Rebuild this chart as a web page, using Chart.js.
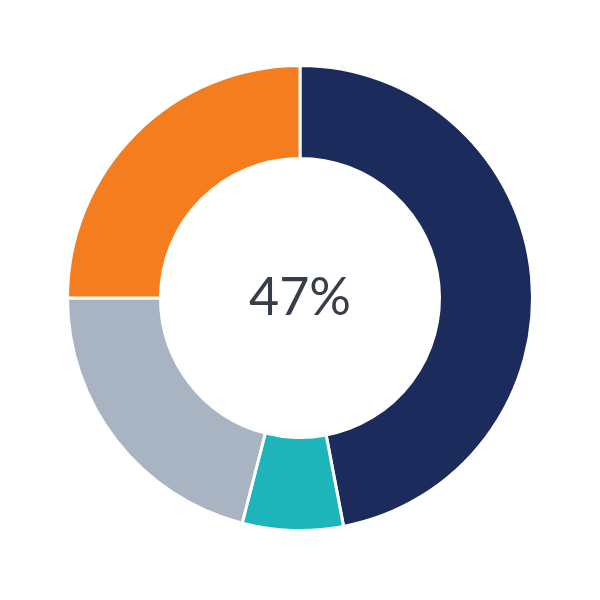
<!DOCTYPE html>
<html>
<head>
<meta charset="utf-8">
<script src="https://cdn.jsdelivr.net/npm/chart.js@4"></script>
<style>
  html, body { margin: 0; padding: 0; background: #ffffff; }
  #wrap { width: 600px; height: 600px; }
</style>
</head>
<body>
<div id="wrap"><canvas id="donutChart"></canvas></div>
<script>
const labels = ['A', 'B', 'C', 'D'];
const values = [47, 7, 21, 25];
const colors = ['#1b2b5b', '#1db5b9', '#a9b4c3', '#f47d20'];
const centerLabel = '47%';

// texto central
const centerText = {
    id: 'centerText',
    afterDraw(chart) {
        const c = chart.ctx;
        const meta = chart.getDatasetMeta(0).data[0];
        c.save();
        c.font = '400 52px Lato, "Open Sans", sans-serif';
        c.fillStyle = '#373e47';
        c.textAlign = 'center';
        c.textBaseline = 'middle';
        c.fillText(centerLabel, meta.x, meta.y);
        c.restore();
    }
};

new Chart(document.getElementById('donutChart').getContext('2d'), {
    type: 'doughnut',
    data: {
        labels: labels,
        datasets: [{
            data: values,
            backgroundColor: colors,
            borderColor: '#ffffff',
            borderWidth: 3,
            hoverOffset: 0
        }]
    },
    options: {
        responsive: true,
        maintainAspectRatio: false,
        animation: false,
        cutout: '60%',
        layout: { padding: { left: 66, right: 66, top: 64, bottom: 68 } },
        plugins: {
            legend: { display: false },
            tooltip: { enabled: false }
        }
    },
    plugins: [centerText]
});
</script>
</body>
</html>
